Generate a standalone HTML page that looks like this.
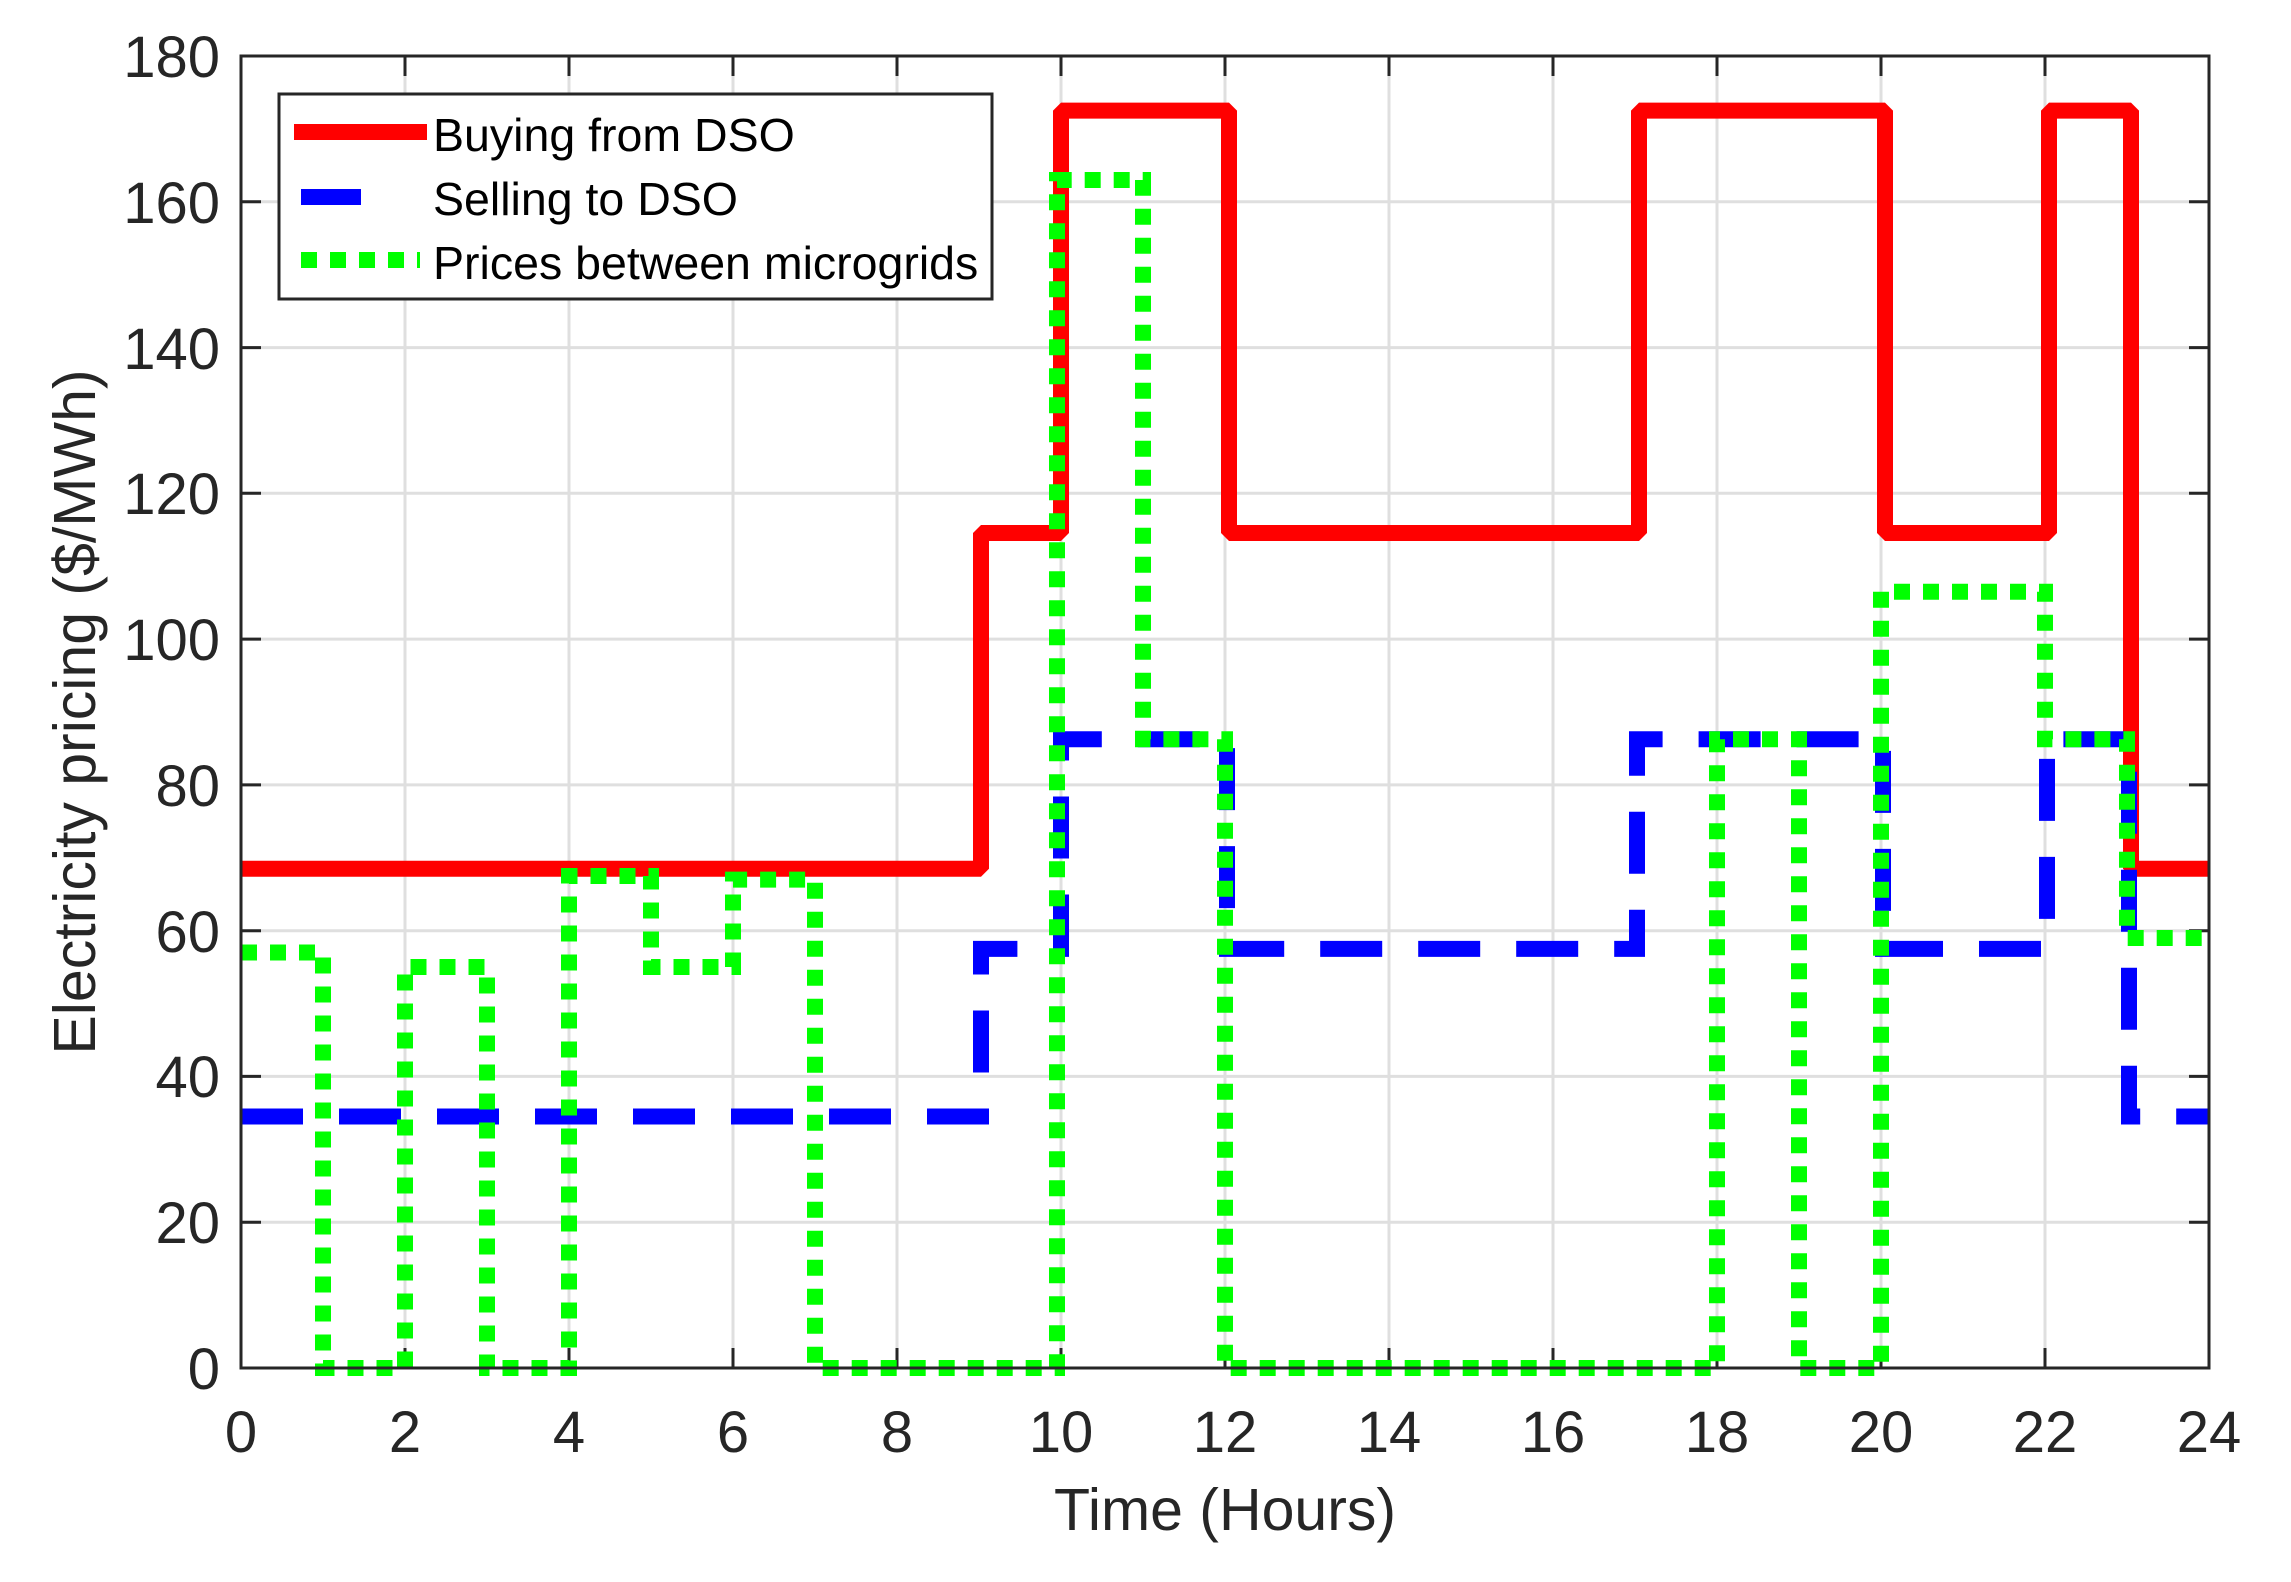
<!DOCTYPE html>
<html><head><meta charset="utf-8"><style>
html,body{margin:0;padding:0;background:#fff;}
svg{display:block;}
text{font-family:"Liberation Sans",Arial,sans-serif;fill:#262626;}
</style></head><body>
<svg width="2291" height="1582" viewBox="0 0 2291 1582" xmlns="http://www.w3.org/2000/svg">
<rect width="2291" height="1582" fill="#fff"/>
<g stroke="#dfdfdf" stroke-width="3">
<line x1="405" y1="56" x2="405" y2="1368"/><line x1="569" y1="56" x2="569" y2="1368"/><line x1="733" y1="56" x2="733" y2="1368"/><line x1="897" y1="56" x2="897" y2="1368"/><line x1="1061" y1="56" x2="1061" y2="1368"/><line x1="1225" y1="56" x2="1225" y2="1368"/><line x1="1389" y1="56" x2="1389" y2="1368"/><line x1="1553" y1="56" x2="1553" y2="1368"/><line x1="1717" y1="56" x2="1717" y2="1368"/><line x1="1881" y1="56" x2="1881" y2="1368"/><line x1="2045" y1="56" x2="2045" y2="1368"/>
<line x1="241" y1="1222.2" x2="2209" y2="1222.2"/><line x1="241" y1="1076.4" x2="2209" y2="1076.4"/><line x1="241" y1="930.7" x2="2209" y2="930.7"/><line x1="241" y1="784.9" x2="2209" y2="784.9"/><line x1="241" y1="639.1" x2="2209" y2="639.1"/><line x1="241" y1="493.3" x2="2209" y2="493.3"/><line x1="241" y1="347.6" x2="2209" y2="347.6"/><line x1="241" y1="201.8" x2="2209" y2="201.8"/>
</g>
<g stroke="#262626" stroke-width="3">
<path d="M405,1368v-20M569,1368v-20M733,1368v-20M897,1368v-20M1061,1368v-20M1225,1368v-20M1389,1368v-20M1553,1368v-20M1717,1368v-20M1881,1368v-20M2045,1368v-20"/>
<path d="M405,56v20M569,56v20M733,56v20M897,56v20M1061,56v20M1225,56v20M1389,56v20M1553,56v20M1717,56v20M1881,56v20M2045,56v20"/>
<path d="M241,1222.2h20M241,1076.4h20M241,930.7h20M241,784.9h20M241,639.1h20M241,493.3h20M241,347.6h20M241,201.8h20"/>
<path d="M2209,1222.2h-20M2209,1076.4h-20M2209,930.7h-20M2209,784.9h-20M2209,639.1h-20M2209,493.3h-20M2209,347.6h-20M2209,201.8h-20"/>
</g>
<g fill="none" stroke-width="16">
<polyline stroke="#ff0000" stroke-linejoin="bevel" points="241,868.7 981,868.7 981,533 1061,533 1061,110.6 1229,110.6 1229,533 1639,533 1639,110.6 1885,110.6 1885,533 2049,533 2049,110.6 2131,110.6 2131,868.7 2209,868.7"/>
<polyline stroke="#0000ff" stroke-dasharray="62 36" points="241,1116.5 981,1116.5 981,948.9 1061,948.9 1061,739.3 1227,739.3 1227,948.9 1637,948.9 1637,739.3 1883,739.3 1883,948.9 2047,948.9 2047,739.3 2129,739.3 2129,1116.5 2209,1116.5"/>
<polyline stroke="#00ff00" stroke-dasharray="16 13" points="241,952.5 323,952.5 323,1368 405,1368 405,967 487,967 487,1368 569,1368 569,876 651,876 651,967 733,967 733,879.6 815,879.6 815,1368 1057,1368 1057,180 1143,180 1143,739.3 1225,739.3 1225,1368 1717,1368 1717,739.3 1799,739.3 1799,1368 1881,1368 1881,591.7 2045,591.7 2045,739.3 2127,739.3 2127,938 2209,938"/>
</g>
<rect x="241" y="56" width="1968" height="1312" fill="none" stroke="#262626" stroke-width="3"/>
<g font-size="58" text-anchor="end">
<text x="220" y="1389">0</text><text x="220" y="1243">20</text><text x="220" y="1097">40</text><text x="220" y="952">60</text><text x="220" y="806">80</text><text x="220" y="660">100</text><text x="220" y="514">120</text><text x="220" y="369">140</text><text x="220" y="223">160</text><text x="220" y="77">180</text>
</g>
<g font-size="58" text-anchor="middle">
<text x="241" y="1452">0</text><text x="405" y="1452">2</text><text x="569" y="1452">4</text><text x="733" y="1452">6</text><text x="897" y="1452">8</text><text x="1061" y="1452">10</text><text x="1225" y="1452">12</text><text x="1389" y="1452">14</text><text x="1553" y="1452">16</text><text x="1717" y="1452">18</text><text x="1881" y="1452">20</text><text x="2045" y="1452">22</text><text x="2209" y="1452">24</text>
<text x="1225" y="1530" font-size="59">Time (Hours)</text>
<text transform="translate(95,712) rotate(-90)" font-size="59">Electricity pricing ($/MWh)</text>
</g>
<rect x="279" y="94" width="713" height="205" fill="#fff" stroke="#262626" stroke-width="3"/>
<line x1="294" y1="132" x2="427" y2="132" stroke="#ff0000" stroke-width="16"/>
<line x1="301" y1="197" x2="420" y2="197" stroke="#0000ff" stroke-width="16" stroke-dasharray="60 59"/>
<line x1="301" y1="260" x2="420" y2="260" stroke="#00ff00" stroke-width="16" stroke-dasharray="16 13"/>
<g font-size="46.5">
<text x="433" y="151" style="fill:#000">Buying from DSO</text>
<text x="433" y="215" style="fill:#000">Selling to DSO</text>
<text x="433" y="279" style="fill:#000">Prices between microgrids</text>
</g>
</svg>
</body></html>
